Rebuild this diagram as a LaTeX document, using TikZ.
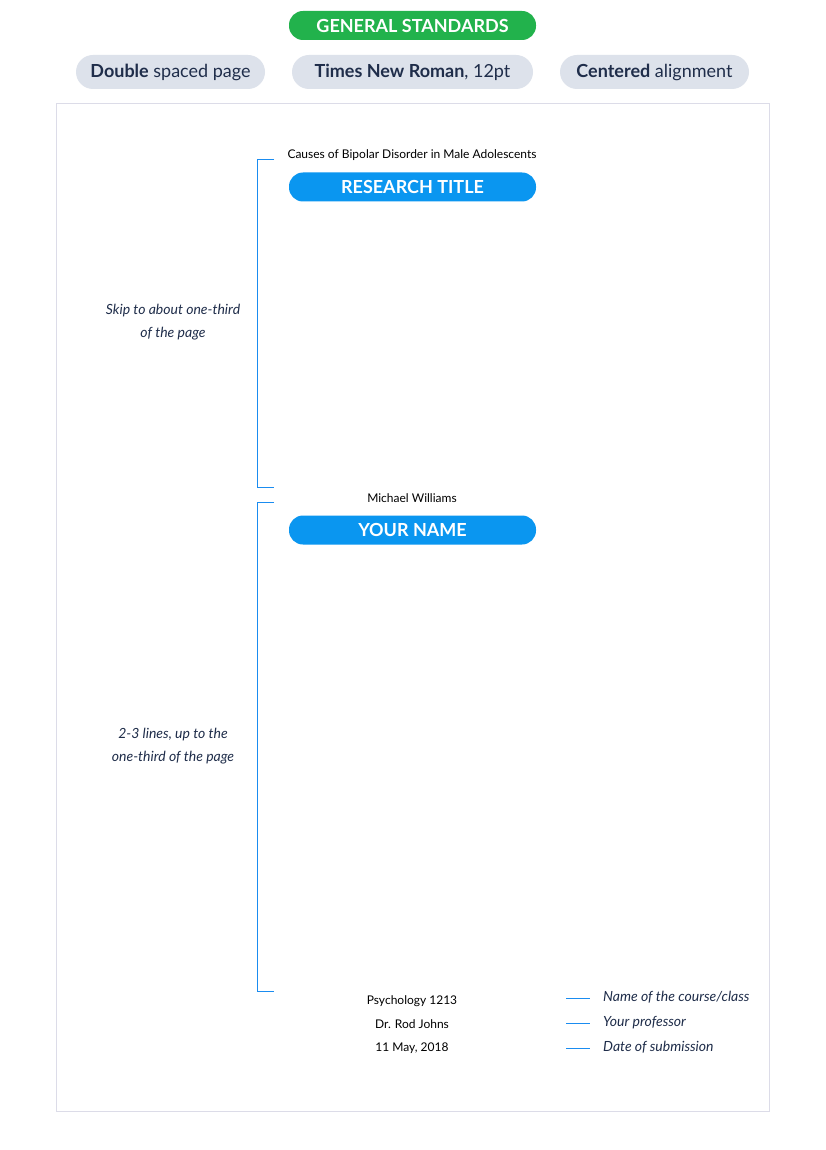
\documentclass[tikz,border=0pt]{standalone}
\usepackage{fontspec}
\setmainfont{Lato}
\definecolor{green1}{HTML}{22B24C}
\definecolor{blue1}{HTML}{0A96F0}
\definecolor{line1}{HTML}{1A8CF0}
\definecolor{pillgray}{HTML}{DDE2EB}
\definecolor{navy}{HTML}{1F2D4A}
\definecolor{frame}{HTML}{DCDCE8}
\begin{document}
\begin{tikzpicture}[x=1pt,y=-1pt,
  pill/.style={rounded corners=14pt,minimum height=29pt,inner sep=0pt,text=white,font=\bfseries\fontsize{18}{20}\selectfont},
  greypill/.style={fill=pillgray,rounded corners=17pt,minimum height=34pt,inner sep=0pt,text=navy,font=\fontsize{18}{20}\selectfont},
  small/.style={inner sep=0pt,font=\fontsize{12}{14}\selectfont,text=black},
  note/.style={inner sep=0pt,font=\itshape\fontsize{14}{23}\selectfont,text=navy,align=center},
  side/.style={inner sep=0pt,font=\itshape\fontsize{14}{16}\selectfont,text=navy,anchor=west},
  bracket/.style={draw=line1,line width=1.2pt}
]
\useasboundingbox (0,0) rectangle (825,1150);
\fill[white] (0,0) rectangle (825,1150);
% header
\node[pill,fill=green1,minimum width=247pt] (gs) at (412.5,25.5) {GENERAL STANDARDS};
\node[greypill,minimum width=189pt] (p1) at (170.5,72) {\textbf{Double} spaced page};
\node[greypill,minimum width=241pt] (p2) at (412.5,72) {\textbf{Times New Roman}, 12pt};
\node[greypill,minimum width=189pt] (p3) at (654.5,72) {\textbf{Centered} alignment};
% page
\draw[frame,line width=1pt] (56.5,103.5) rectangle (769.5,1111.5);
% title
\node[small] (title) at (412,155) {Causes of Bipolar Disorder in Male Adolescents};
\node[pill,fill=blue1,minimum width=247pt] (rt) at (412.5,187) {RESEARCH TITLE};
\node[small] (name) at (412,498) {Michael Williams};
\node[pill,fill=blue1,minimum width=247pt] (yn) at (412.5,530) {YOUR NAME};
% brackets
\coordinate (b1a) at (274,159.5);
\coordinate (b1b) at (274,487.5);
\coordinate (b2a) at (274,502.5);
\coordinate (b2b) at (274,991.5);
\draw[bracket] (b1a) -- (257.5,159.5) |- (b1b);
\draw[bracket] (b2a) -- (257.5,502.5) |- (b2b);
\node[note] (n1) at (173,322) {Skip to about one-third\\of the page};
\node[note] (n2) at (173,746) {2-3 lines, up to the\\one-third of the page};
% bottom
\node[small] (c1) at (412,1001) {Psychology 1213};
\node[small] (c2) at (412,1024) {Dr. Rod Johns};
\node[small] (c3) at (412,1048) {11 May, 2018};
\node[side] (s1) at (603,997.5) {Name of the course/class};
\node[side] (s2) at (603,1022.5) {Your professor};
\node[side] (s3) at (603,1047.5) {Date of submission};
\coordinate (l1) at (566,998.5);
\coordinate (l2) at (566,1023.5);
\coordinate (l3) at (566,1048.5);
\draw[bracket] (l1) -- ++(24,0);
\draw[bracket] (l2) -- ++(24,0);
\draw[bracket] (l3) -- ++(24,0);
\end{tikzpicture}
\end{document}
